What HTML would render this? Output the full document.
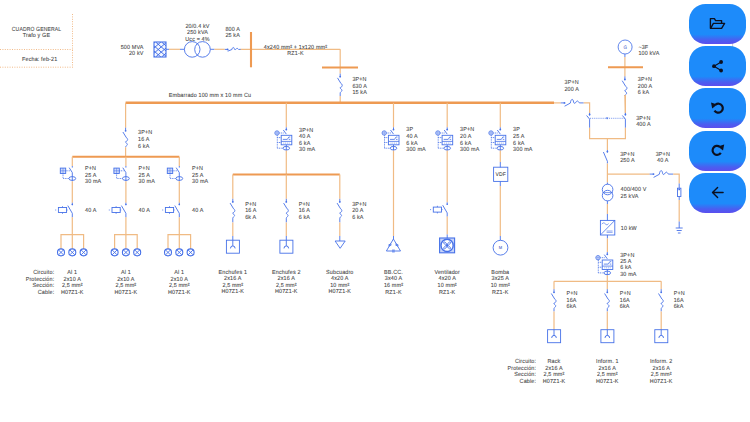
<!DOCTYPE html>
<html><head><meta charset="utf-8"><style>
html,body{margin:0;padding:0;background:#fff;width:750px;height:422px;overflow:hidden;position:relative}
svg.d{position:absolute;left:0;top:0}
svg.d text{font-family:"Liberation Sans",sans-serif;text-rendering:geometricPrecision;letter-spacing:0.15px}
.btn{position:absolute;left:689.3px;width:56.9px;height:40.1px;border-radius:16.5px;background:linear-gradient(to bottom,#1d8bfa 0%,#1d8bfa 76%,#4a5ff0 90%,#5b4eee 100%)}
svg.ic{position:absolute;left:0;top:0}
</style></head><body>
<svg class="d" width="750" height="422" viewBox="0 0 750 422">
<line x1="72.50" y1="14.00" x2="72.50" y2="67.50" stroke="#f0b27a" stroke-width="0.9" stroke-dasharray="1,1.4"/>
<line x1="0.00" y1="49.50" x2="72.50" y2="49.50" stroke="#f0b27a" stroke-width="0.9" stroke-dasharray="1,1.4"/>
<line x1="0.00" y1="67.20" x2="72.50" y2="67.20" stroke="#f0b27a" stroke-width="0.9" stroke-dasharray="1,1.4"/>
<text transform="translate(36.50,30.82) scale(0.86,1) skewX(0.05)" font-size="5.9" text-anchor="middle" fill="#444444" stroke="#444444" stroke-width="0.08" >CUADRO GENERAL</text>
<text transform="translate(36.50,37.42) scale(0.92,1) skewX(0.05)" font-size="5.9" text-anchor="middle" fill="#444444" stroke="#444444" stroke-width="0.08" >Trafo y GE</text>
<text transform="translate(39.70,60.82) scale(0.92,1) skewX(0.05)" font-size="5.9" text-anchor="middle" fill="#444444" stroke="#444444" stroke-width="0.08" >Fecha: feb-21</text>
<text transform="translate(143.50,48.62) scale(0.92,1) skewX(0.05)" font-size="5.9" text-anchor="end" fill="#444444" stroke="#444444" stroke-width="0.08" >500 MVA</text>
<text transform="translate(143.50,55.32) scale(0.92,1) skewX(0.05)" font-size="5.9" text-anchor="end" fill="#444444" stroke="#444444" stroke-width="0.08" >20 kV</text>
<defs><clipPath id="netclip"><rect x="154" y="42" width="12" height="15"/></clipPath></defs>
<rect x="154" y="42" width="12" height="15" fill="#f4f7fe"/>
<g clip-path="url(#netclip)"><line x1="131.60" y1="42" x2="148.90" y2="57" stroke="#4671e8" stroke-width="1"/><line x1="148.90" y1="42" x2="131.60" y2="57" stroke="#4671e8" stroke-width="1"/><line x1="137.60" y1="42" x2="154.90" y2="57" stroke="#4671e8" stroke-width="1"/><line x1="154.90" y1="42" x2="137.60" y2="57" stroke="#4671e8" stroke-width="1"/><line x1="143.60" y1="42" x2="160.90" y2="57" stroke="#4671e8" stroke-width="1"/><line x1="160.90" y1="42" x2="143.60" y2="57" stroke="#4671e8" stroke-width="1"/><line x1="149.60" y1="42" x2="166.90" y2="57" stroke="#4671e8" stroke-width="1"/><line x1="166.90" y1="42" x2="149.60" y2="57" stroke="#4671e8" stroke-width="1"/><line x1="155.60" y1="42" x2="172.90" y2="57" stroke="#4671e8" stroke-width="1"/><line x1="172.90" y1="42" x2="155.60" y2="57" stroke="#4671e8" stroke-width="1"/><line x1="161.60" y1="42" x2="178.90" y2="57" stroke="#4671e8" stroke-width="1"/><line x1="178.90" y1="42" x2="161.60" y2="57" stroke="#4671e8" stroke-width="1"/><line x1="167.60" y1="42" x2="184.90" y2="57" stroke="#4671e8" stroke-width="1"/><line x1="184.90" y1="42" x2="167.60" y2="57" stroke="#4671e8" stroke-width="1"/><line x1="173.60" y1="42" x2="190.90" y2="57" stroke="#4671e8" stroke-width="1"/><line x1="190.90" y1="42" x2="173.60" y2="57" stroke="#4671e8" stroke-width="1"/><line x1="179.60" y1="42" x2="196.90" y2="57" stroke="#4671e8" stroke-width="1"/><line x1="196.90" y1="42" x2="179.60" y2="57" stroke="#4671e8" stroke-width="1"/><line x1="185.60" y1="42" x2="202.90" y2="57" stroke="#4671e8" stroke-width="1"/><line x1="202.90" y1="42" x2="185.60" y2="57" stroke="#4671e8" stroke-width="1"/></g>
<rect x="154" y="42" width="12" height="15" fill="none" stroke="#4671e8" stroke-width="1.1"/>
<line x1="166.00" y1="49.30" x2="169.00" y2="49.30" stroke="#4671e8" stroke-width="0.9" />
<line x1="169.00" y1="49.30" x2="180.00" y2="49.30" stroke="#f0bb84" stroke-width="1.2" />
<line x1="180.00" y1="49.30" x2="184.40" y2="49.30" stroke="#4671e8" stroke-width="0.9" />
<circle cx="192.2" cy="49.4" r="7.8" fill="none" stroke="#4671e8" stroke-width="0.9"/>
<circle cx="202.5" cy="49.4" r="7.8" fill="none" stroke="#4671e8" stroke-width="0.9"/>
<text transform="translate(197.50,27.92) scale(0.92,1) skewX(0.05)" font-size="5.9" text-anchor="middle" fill="#444444" stroke="#444444" stroke-width="0.08" >20/0.4 kV</text>
<text transform="translate(197.50,34.42) scale(0.92,1) skewX(0.05)" font-size="5.9" text-anchor="middle" fill="#444444" stroke="#444444" stroke-width="0.08" >250 kVA</text>
<text transform="translate(197.50,40.72) scale(0.92,1) skewX(0.05)" font-size="5.9" text-anchor="middle" fill="#444444" stroke="#444444" stroke-width="0.08" >Ucc = 4%</text>
<line x1="210.30" y1="49.30" x2="214.50" y2="49.30" stroke="#4671e8" stroke-width="0.9" />
<line x1="214.50" y1="49.30" x2="224.70" y2="49.30" stroke="#f0bb84" stroke-width="1.2" />
<line x1="224.80" y1="49.40" x2="227.61" y2="49.40" stroke="#4671e8" stroke-width="0.9" />
<circle cx="227.61" cy="49.40" r="0.95" fill="#4671e8"/>
<line x1="227.69" y1="51.21" x2="231.90" y2="49.51" stroke="#4671e8" stroke-width="0.9" />
<path d="M231.90,49.51 C232.35,47.09 233.98,46.65 234.35,49.07 C234.64,49.95 235.60,49.73 236.34,48.74 C237.08,47.86 237.82,48.52 238.56,49.40" fill="none" stroke="#4671e8" stroke-width="0.9" />
<line x1="238.56" y1="49.40" x2="241.00" y2="49.40" stroke="#4671e8" stroke-width="0.9" />
<line x1="240.60" y1="49.30" x2="340.20" y2="49.30" stroke="#f0bb84" stroke-width="1.2" />
<text transform="translate(232.70,31.22) scale(0.92,1) skewX(0.05)" font-size="5.9" text-anchor="middle" fill="#444444" stroke="#444444" stroke-width="0.08" >800 A</text>
<text transform="translate(232.70,37.32) scale(0.92,1) skewX(0.05)" font-size="5.9" text-anchor="middle" fill="#444444" stroke="#444444" stroke-width="0.08" >25 kA</text>
<line x1="251.00" y1="32.00" x2="251.00" y2="67.30" stroke="#ee9a52" stroke-width="2.1" />
<text transform="translate(295.50,48.92) scale(0.92,1) skewX(0.05)" font-size="5.9" text-anchor="middle" fill="#444444" stroke="#444444" stroke-width="0.08" >4x240 mm² + 1x120 mm²</text>
<text transform="translate(295.50,55.32) scale(0.92,1) skewX(0.05)" font-size="5.9" text-anchor="middle" fill="#444444" stroke="#444444" stroke-width="0.08" >RZ1-K</text>
<line x1="340.20" y1="49.30" x2="340.20" y2="73.60" stroke="#f0bb84" stroke-width="1.2" />
<line x1="322.00" y1="67.60" x2="358.00" y2="67.60" stroke="#ee9a52" stroke-width="2" />
<line x1="340.20" y1="73.60" x2="340.20" y2="76.80" stroke="#4671e8" stroke-width="0.9" />
<circle cx="340.20" cy="76.70" r="0.9" fill="#4671e8"/>
<line x1="337.50" y1="77.90" x2="341.00" y2="83.60" stroke="#4671e8" stroke-width="0.9" />
<path d="M341.00,83.60 C342.90,84.60 342.50,86.80 340.40,87.50 C338.90,88.10 342.30,89.10 341.90,90.60 C341.60,91.60 340.20,92.00 340.20,93.00" fill="none" stroke="#4671e8" stroke-width="0.9" />
<line x1="340.20" y1="93.00" x2="340.20" y2="96.00" stroke="#4671e8" stroke-width="0.9" />
<line x1="340.20" y1="96.00" x2="340.20" y2="103.00" stroke="#f0bb84" stroke-width="1.2" />
<text transform="translate(352.40,80.92) scale(0.92,1) skewX(0.05)" font-size="5.9" text-anchor="start" fill="#444444" stroke="#444444" stroke-width="0.08" >3P+N</text>
<text transform="translate(352.40,87.72) scale(0.92,1) skewX(0.05)" font-size="5.9" text-anchor="start" fill="#444444" stroke="#444444" stroke-width="0.08" >630 A</text>
<text transform="translate(352.40,94.22) scale(0.92,1) skewX(0.05)" font-size="5.9" text-anchor="start" fill="#444444" stroke="#444444" stroke-width="0.08" >15 kA</text>
<line x1="125.60" y1="102.80" x2="554.00" y2="102.80" stroke="#ee9a52" stroke-width="2.5" />
<text transform="translate(168.80,96.52) scale(0.92,1) skewX(0.05)" font-size="5.9" text-anchor="start" fill="#444444" stroke="#444444" stroke-width="0.08" >Embarrado 100 mm x 10 mm Cu</text>
<line x1="125.60" y1="102.80" x2="125.60" y2="127.70" stroke="#f0bb84" stroke-width="1.2" />
<line x1="125.60" y1="127.70" x2="125.60" y2="130.90" stroke="#4671e8" stroke-width="0.9" />
<circle cx="125.60" cy="130.80" r="0.9" fill="#4671e8"/>
<line x1="122.90" y1="132.00" x2="126.40" y2="137.70" stroke="#4671e8" stroke-width="0.9" />
<path d="M126.40,137.70 C128.30,138.70 127.90,140.90 125.80,141.60 C124.30,142.20 127.70,143.20 127.30,144.70 C127.00,145.70 125.60,146.10 125.60,147.10" fill="none" stroke="#4671e8" stroke-width="0.9" />
<line x1="125.60" y1="147.10" x2="125.60" y2="147.20" stroke="#4671e8" stroke-width="0.9" />
<line x1="125.60" y1="147.20" x2="125.60" y2="157.00" stroke="#f0bb84" stroke-width="1.2" />
<text transform="translate(138.00,134.22) scale(0.92,1) skewX(0.05)" font-size="5.9" text-anchor="start" fill="#444444" stroke="#444444" stroke-width="0.08" >3P+N</text>
<text transform="translate(138.00,141.12) scale(0.92,1) skewX(0.05)" font-size="5.9" text-anchor="start" fill="#444444" stroke="#444444" stroke-width="0.08" >16 A</text>
<text transform="translate(138.00,147.62) scale(0.92,1) skewX(0.05)" font-size="5.9" text-anchor="start" fill="#444444" stroke="#444444" stroke-width="0.08" >6 kA</text>
<line x1="72.30" y1="156.80" x2="179.30" y2="156.80" stroke="#ee9a52" stroke-width="1.9" />
<line x1="72.30" y1="156.80" x2="72.30" y2="166.00" stroke="#f0bb84" stroke-width="1.2" />
<line x1="72.30" y1="166.00" x2="72.30" y2="167.60" stroke="#4671e8" stroke-width="0.9" />
<line x1="69.20" y1="167.70" x2="72.30" y2="172.60" stroke="#4671e8" stroke-width="0.9" />
<line x1="72.30" y1="172.60" x2="72.30" y2="181.20" stroke="#4671e8" stroke-width="0.9" />
<ellipse cx="72.30" cy="178.50" rx="3.4" ry="1.9" fill="none" stroke="#4671e8" stroke-width="0.9"/>
<rect x="60.30" y="168.10" width="5.4" height="5.4" fill="#d0dcfb" stroke="#4671e8" stroke-width="0.9"/>
<line x1="63.00" y1="168.10" x2="63.00" y2="173.50" stroke="#4671e8" stroke-width="0.5" />
<line x1="60.30" y1="170.80" x2="65.70" y2="170.80" stroke="#4671e8" stroke-width="0.5" />
<line x1="65.70" y1="170.80" x2="69.90" y2="170.80" stroke="#4671e8" stroke-width="0.8" stroke-dasharray="1,0.7"/>
<polyline points="63.00,173.50 63.00,178.50 68.90,178.50" fill="none" stroke="#4671e8" stroke-width="0.8" stroke-dasharray="1,0.7"/>
<line x1="72.30" y1="181.20" x2="72.30" y2="202.70" stroke="#f0bb84" stroke-width="1.2" />
<text transform="translate(85.00,170.22) scale(0.92,1) skewX(0.05)" font-size="5.9" text-anchor="start" fill="#444444" stroke="#444444" stroke-width="0.08" >P+N</text>
<text transform="translate(85.00,177.12) scale(0.92,1) skewX(0.05)" font-size="5.9" text-anchor="start" fill="#444444" stroke="#444444" stroke-width="0.08" >25 A</text>
<text transform="translate(85.00,183.42) scale(0.92,1) skewX(0.05)" font-size="5.9" text-anchor="start" fill="#444444" stroke="#444444" stroke-width="0.08" >30 mA</text>
<line x1="72.30" y1="202.70" x2="72.30" y2="204.90" stroke="#4671e8" stroke-width="0.9" />
<circle cx="72.30" cy="204.60" r="0.8" fill="#4671e8"/>
<line x1="67.80" y1="205.60" x2="72.30" y2="213.30" stroke="#4671e8" stroke-width="0.9" />
<line x1="72.30" y1="213.30" x2="72.30" y2="217.30" stroke="#4671e8" stroke-width="0.9" />
<rect x="58.40" y="207.50" width="8.2" height="5" fill="none" stroke="#4671e8" stroke-width="0.9"/>
<line x1="62.50" y1="206.20" x2="62.50" y2="207.50" stroke="#4671e8" stroke-width="0.8" />
<line x1="62.50" y1="212.50" x2="62.50" y2="213.80" stroke="#4671e8" stroke-width="0.8" />
<line x1="55.20" y1="210.00" x2="56.20" y2="210.00" stroke="#4671e8" stroke-width="0.8" />
<line x1="66.60" y1="210.00" x2="67.60" y2="210.00" stroke="#4671e8" stroke-width="0.8" />
<text transform="translate(85.00,212.22) scale(0.92,1) skewX(0.05)" font-size="5.9" text-anchor="start" fill="#444444" stroke="#444444" stroke-width="0.08" >40 A</text>
<line x1="72.30" y1="217.30" x2="72.30" y2="249.00" stroke="#f0bb84" stroke-width="1.2" />
<polyline points="61.00,249.00 61.00,234.70 83.60,234.70 83.60,249.00" fill="none" stroke="#f0bb84" stroke-width="1.2" />
<circle cx="61.00" cy="252.40" r="3.5" fill="none" stroke="#4671e8" stroke-width="1.1"/>
<line x1="58.53" y1="249.93" x2="63.47" y2="254.87" stroke="#4671e8" stroke-width="0.9" />
<line x1="58.53" y1="254.87" x2="63.47" y2="249.93" stroke="#4671e8" stroke-width="0.9" />
<circle cx="72.30" cy="252.40" r="3.5" fill="none" stroke="#4671e8" stroke-width="1.1"/>
<line x1="69.83" y1="249.93" x2="74.77" y2="254.87" stroke="#4671e8" stroke-width="0.9" />
<line x1="69.83" y1="254.87" x2="74.77" y2="249.93" stroke="#4671e8" stroke-width="0.9" />
<circle cx="83.60" cy="252.40" r="3.5" fill="none" stroke="#4671e8" stroke-width="1.1"/>
<line x1="81.13" y1="249.93" x2="86.07" y2="254.87" stroke="#4671e8" stroke-width="0.9" />
<line x1="81.13" y1="254.87" x2="86.07" y2="249.93" stroke="#4671e8" stroke-width="0.9" />
<text transform="translate(72.30,274.12) scale(0.92,1) skewX(0.05)" font-size="5.9" text-anchor="middle" fill="#444444" stroke="#444444" stroke-width="0.08" >Al 1</text>
<text transform="translate(72.30,280.92) scale(0.92,1) skewX(0.05)" font-size="5.9" text-anchor="middle" fill="#444444" stroke="#444444" stroke-width="0.08" >2x10 A</text>
<text transform="translate(72.30,287.32) scale(0.92,1) skewX(0.05)" font-size="5.9" text-anchor="middle" fill="#444444" stroke="#444444" stroke-width="0.08" >2,5 mm²</text>
<text transform="translate(72.30,293.72) scale(0.92,1) skewX(0.05)" font-size="5.9" text-anchor="middle" fill="#444444" stroke="#444444" stroke-width="0.08" >H07Z1-K</text>
<line x1="125.90" y1="156.80" x2="125.90" y2="166.00" stroke="#f0bb84" stroke-width="1.2" />
<line x1="125.90" y1="166.00" x2="125.90" y2="167.60" stroke="#4671e8" stroke-width="0.9" />
<line x1="122.80" y1="167.70" x2="125.90" y2="172.60" stroke="#4671e8" stroke-width="0.9" />
<line x1="125.90" y1="172.60" x2="125.90" y2="181.20" stroke="#4671e8" stroke-width="0.9" />
<ellipse cx="125.90" cy="178.50" rx="3.4" ry="1.9" fill="none" stroke="#4671e8" stroke-width="0.9"/>
<rect x="113.90" y="168.10" width="5.4" height="5.4" fill="#d0dcfb" stroke="#4671e8" stroke-width="0.9"/>
<line x1="116.60" y1="168.10" x2="116.60" y2="173.50" stroke="#4671e8" stroke-width="0.5" />
<line x1="113.90" y1="170.80" x2="119.30" y2="170.80" stroke="#4671e8" stroke-width="0.5" />
<line x1="119.30" y1="170.80" x2="123.50" y2="170.80" stroke="#4671e8" stroke-width="0.8" stroke-dasharray="1,0.7"/>
<polyline points="116.60,173.50 116.60,178.50 122.50,178.50" fill="none" stroke="#4671e8" stroke-width="0.8" stroke-dasharray="1,0.7"/>
<line x1="125.90" y1="181.20" x2="125.90" y2="202.70" stroke="#f0bb84" stroke-width="1.2" />
<text transform="translate(138.60,170.22) scale(0.92,1) skewX(0.05)" font-size="5.9" text-anchor="start" fill="#444444" stroke="#444444" stroke-width="0.08" >P+N</text>
<text transform="translate(138.60,177.12) scale(0.92,1) skewX(0.05)" font-size="5.9" text-anchor="start" fill="#444444" stroke="#444444" stroke-width="0.08" >25 A</text>
<text transform="translate(138.60,183.42) scale(0.92,1) skewX(0.05)" font-size="5.9" text-anchor="start" fill="#444444" stroke="#444444" stroke-width="0.08" >30 mA</text>
<line x1="125.90" y1="202.70" x2="125.90" y2="204.90" stroke="#4671e8" stroke-width="0.9" />
<circle cx="125.90" cy="204.60" r="0.8" fill="#4671e8"/>
<line x1="121.40" y1="205.60" x2="125.90" y2="213.30" stroke="#4671e8" stroke-width="0.9" />
<line x1="125.90" y1="213.30" x2="125.90" y2="217.30" stroke="#4671e8" stroke-width="0.9" />
<rect x="112.00" y="207.50" width="8.2" height="5" fill="none" stroke="#4671e8" stroke-width="0.9"/>
<line x1="116.10" y1="206.20" x2="116.10" y2="207.50" stroke="#4671e8" stroke-width="0.8" />
<line x1="116.10" y1="212.50" x2="116.10" y2="213.80" stroke="#4671e8" stroke-width="0.8" />
<line x1="108.80" y1="210.00" x2="109.80" y2="210.00" stroke="#4671e8" stroke-width="0.8" />
<line x1="120.20" y1="210.00" x2="121.20" y2="210.00" stroke="#4671e8" stroke-width="0.8" />
<text transform="translate(138.60,212.22) scale(0.92,1) skewX(0.05)" font-size="5.9" text-anchor="start" fill="#444444" stroke="#444444" stroke-width="0.08" >40 A</text>
<line x1="125.90" y1="217.30" x2="125.90" y2="249.00" stroke="#f0bb84" stroke-width="1.2" />
<polyline points="114.60,249.00 114.60,234.70 137.20,234.70 137.20,249.00" fill="none" stroke="#f0bb84" stroke-width="1.2" />
<circle cx="114.60" cy="252.40" r="3.5" fill="none" stroke="#4671e8" stroke-width="1.1"/>
<line x1="112.13" y1="249.93" x2="117.07" y2="254.87" stroke="#4671e8" stroke-width="0.9" />
<line x1="112.13" y1="254.87" x2="117.07" y2="249.93" stroke="#4671e8" stroke-width="0.9" />
<circle cx="125.90" cy="252.40" r="3.5" fill="none" stroke="#4671e8" stroke-width="1.1"/>
<line x1="123.43" y1="249.93" x2="128.37" y2="254.87" stroke="#4671e8" stroke-width="0.9" />
<line x1="123.43" y1="254.87" x2="128.37" y2="249.93" stroke="#4671e8" stroke-width="0.9" />
<circle cx="137.20" cy="252.40" r="3.5" fill="none" stroke="#4671e8" stroke-width="1.1"/>
<line x1="134.73" y1="249.93" x2="139.67" y2="254.87" stroke="#4671e8" stroke-width="0.9" />
<line x1="134.73" y1="254.87" x2="139.67" y2="249.93" stroke="#4671e8" stroke-width="0.9" />
<text transform="translate(125.90,274.12) scale(0.92,1) skewX(0.05)" font-size="5.9" text-anchor="middle" fill="#444444" stroke="#444444" stroke-width="0.08" >Al 1</text>
<text transform="translate(125.90,280.92) scale(0.92,1) skewX(0.05)" font-size="5.9" text-anchor="middle" fill="#444444" stroke="#444444" stroke-width="0.08" >2x10 A</text>
<text transform="translate(125.90,287.32) scale(0.92,1) skewX(0.05)" font-size="5.9" text-anchor="middle" fill="#444444" stroke="#444444" stroke-width="0.08" >2,5 mm²</text>
<text transform="translate(125.90,293.72) scale(0.92,1) skewX(0.05)" font-size="5.9" text-anchor="middle" fill="#444444" stroke="#444444" stroke-width="0.08" >H07Z1-K</text>
<line x1="179.30" y1="156.80" x2="179.30" y2="166.00" stroke="#f0bb84" stroke-width="1.2" />
<line x1="179.30" y1="166.00" x2="179.30" y2="167.60" stroke="#4671e8" stroke-width="0.9" />
<line x1="176.20" y1="167.70" x2="179.30" y2="172.60" stroke="#4671e8" stroke-width="0.9" />
<line x1="179.30" y1="172.60" x2="179.30" y2="181.20" stroke="#4671e8" stroke-width="0.9" />
<ellipse cx="179.30" cy="178.50" rx="3.4" ry="1.9" fill="none" stroke="#4671e8" stroke-width="0.9"/>
<rect x="167.30" y="168.10" width="5.4" height="5.4" fill="#d0dcfb" stroke="#4671e8" stroke-width="0.9"/>
<line x1="170.00" y1="168.10" x2="170.00" y2="173.50" stroke="#4671e8" stroke-width="0.5" />
<line x1="167.30" y1="170.80" x2="172.70" y2="170.80" stroke="#4671e8" stroke-width="0.5" />
<line x1="172.70" y1="170.80" x2="176.90" y2="170.80" stroke="#4671e8" stroke-width="0.8" stroke-dasharray="1,0.7"/>
<polyline points="170.00,173.50 170.00,178.50 175.90,178.50" fill="none" stroke="#4671e8" stroke-width="0.8" stroke-dasharray="1,0.7"/>
<line x1="179.30" y1="181.20" x2="179.30" y2="202.70" stroke="#f0bb84" stroke-width="1.2" />
<text transform="translate(192.00,170.22) scale(0.92,1) skewX(0.05)" font-size="5.9" text-anchor="start" fill="#444444" stroke="#444444" stroke-width="0.08" >P+N</text>
<text transform="translate(192.00,177.12) scale(0.92,1) skewX(0.05)" font-size="5.9" text-anchor="start" fill="#444444" stroke="#444444" stroke-width="0.08" >25 A</text>
<text transform="translate(192.00,183.42) scale(0.92,1) skewX(0.05)" font-size="5.9" text-anchor="start" fill="#444444" stroke="#444444" stroke-width="0.08" >30 mA</text>
<line x1="179.30" y1="202.70" x2="179.30" y2="204.90" stroke="#4671e8" stroke-width="0.9" />
<circle cx="179.30" cy="204.60" r="0.8" fill="#4671e8"/>
<line x1="174.80" y1="205.60" x2="179.30" y2="213.30" stroke="#4671e8" stroke-width="0.9" />
<line x1="179.30" y1="213.30" x2="179.30" y2="217.30" stroke="#4671e8" stroke-width="0.9" />
<rect x="165.40" y="207.50" width="8.2" height="5" fill="none" stroke="#4671e8" stroke-width="0.9"/>
<line x1="169.50" y1="206.20" x2="169.50" y2="207.50" stroke="#4671e8" stroke-width="0.8" />
<line x1="169.50" y1="212.50" x2="169.50" y2="213.80" stroke="#4671e8" stroke-width="0.8" />
<line x1="162.20" y1="210.00" x2="163.20" y2="210.00" stroke="#4671e8" stroke-width="0.8" />
<line x1="173.60" y1="210.00" x2="174.60" y2="210.00" stroke="#4671e8" stroke-width="0.8" />
<text transform="translate(192.00,212.22) scale(0.92,1) skewX(0.05)" font-size="5.9" text-anchor="start" fill="#444444" stroke="#444444" stroke-width="0.08" >40 A</text>
<line x1="179.30" y1="217.30" x2="179.30" y2="249.00" stroke="#f0bb84" stroke-width="1.2" />
<polyline points="168.00,249.00 168.00,234.70 190.60,234.70 190.60,249.00" fill="none" stroke="#f0bb84" stroke-width="1.2" />
<circle cx="168.00" cy="252.40" r="3.5" fill="none" stroke="#4671e8" stroke-width="1.1"/>
<line x1="165.53" y1="249.93" x2="170.47" y2="254.87" stroke="#4671e8" stroke-width="0.9" />
<line x1="165.53" y1="254.87" x2="170.47" y2="249.93" stroke="#4671e8" stroke-width="0.9" />
<circle cx="179.30" cy="252.40" r="3.5" fill="none" stroke="#4671e8" stroke-width="1.1"/>
<line x1="176.83" y1="249.93" x2="181.77" y2="254.87" stroke="#4671e8" stroke-width="0.9" />
<line x1="176.83" y1="254.87" x2="181.77" y2="249.93" stroke="#4671e8" stroke-width="0.9" />
<circle cx="190.60" cy="252.40" r="3.5" fill="none" stroke="#4671e8" stroke-width="1.1"/>
<line x1="188.13" y1="249.93" x2="193.07" y2="254.87" stroke="#4671e8" stroke-width="0.9" />
<line x1="188.13" y1="254.87" x2="193.07" y2="249.93" stroke="#4671e8" stroke-width="0.9" />
<text transform="translate(179.30,274.12) scale(0.92,1) skewX(0.05)" font-size="5.9" text-anchor="middle" fill="#444444" stroke="#444444" stroke-width="0.08" >Al 1</text>
<text transform="translate(179.30,280.92) scale(0.92,1) skewX(0.05)" font-size="5.9" text-anchor="middle" fill="#444444" stroke="#444444" stroke-width="0.08" >2x10 A</text>
<text transform="translate(179.30,287.32) scale(0.92,1) skewX(0.05)" font-size="5.9" text-anchor="middle" fill="#444444" stroke="#444444" stroke-width="0.08" >2,5 mm²</text>
<text transform="translate(179.30,293.72) scale(0.92,1) skewX(0.05)" font-size="5.9" text-anchor="middle" fill="#444444" stroke="#444444" stroke-width="0.08" >H07Z1-K</text>
<text transform="translate(54.30,274.12) scale(0.92,1) skewX(0.05)" font-size="5.9" text-anchor="end" fill="#444444" stroke="#444444" stroke-width="0.08" >Circuito:</text>
<text transform="translate(54.30,280.92) scale(0.92,1) skewX(0.05)" font-size="5.9" text-anchor="end" fill="#444444" stroke="#444444" stroke-width="0.08" >Protección:</text>
<text transform="translate(54.30,287.32) scale(0.92,1) skewX(0.05)" font-size="5.9" text-anchor="end" fill="#444444" stroke="#444444" stroke-width="0.08" >Sección:</text>
<text transform="translate(54.30,293.72) scale(0.92,1) skewX(0.05)" font-size="5.9" text-anchor="end" fill="#444444" stroke="#444444" stroke-width="0.08" >Cable:</text>
<line x1="286.30" y1="102.80" x2="286.30" y2="127.30" stroke="#f0bb84" stroke-width="1.2" />
<line x1="286.30" y1="127.30" x2="286.30" y2="130.10" stroke="#4671e8" stroke-width="0.9" />
<circle cx="286.30" cy="129.60" r="0.9" fill="#4671e8"/>
<line x1="283.30" y1="130.00" x2="286.30" y2="134.10" stroke="#4671e8" stroke-width="0.9" />
<rect x="281.20" y="135.30" width="10.6" height="9.50" fill="none" stroke="#4671e8" stroke-width="0.9"/>
<line x1="281.20" y1="141.40" x2="291.80" y2="141.40" stroke="#4671e8" stroke-width="0.8" />
<path d="M282.80,139.40 L287.30,139.40 L288.80,137.00 L290.30,137.00 M288.80,139.40 L290.30,139.40" fill="none" stroke="#4671e8" stroke-width="0.8" />
<line x1="283.30" y1="143.10" x2="289.80" y2="143.10" stroke="#4671e8" stroke-width="0.6" stroke-dasharray="1,0.8"/>
<line x1="286.30" y1="144.80" x2="286.30" y2="150.60" stroke="#4671e8" stroke-width="0.9" />
<ellipse cx="286.30" cy="148.20" rx="3.3" ry="1.8" fill="none" stroke="#4671e8" stroke-width="0.9"/>
<circle cx="277.00" cy="133.00" r="2.2" fill="#e3e9fc" stroke="#4671e8" stroke-width="0.75"/>
<line x1="274.80" y1="133.00" x2="279.20" y2="133.00" stroke="#4671e8" stroke-width="0.45" />
<line x1="277.00" y1="130.80" x2="277.00" y2="135.20" stroke="#4671e8" stroke-width="0.45" />
<line x1="279.30" y1="133.00" x2="284.30" y2="133.00" stroke="#4671e8" stroke-width="0.8" stroke-dasharray="1,0.7"/>
<line x1="277.30" y1="135.30" x2="277.30" y2="148.20" stroke="#4671e8" stroke-width="0.8" stroke-dasharray="1,0.7"/>
<line x1="277.30" y1="137.60" x2="281.20" y2="137.60" stroke="#4671e8" stroke-width="0.8" stroke-dasharray="1,0.7"/>
<line x1="277.30" y1="142.50" x2="281.20" y2="142.50" stroke="#4671e8" stroke-width="0.8" stroke-dasharray="1,0.7"/>
<line x1="277.30" y1="148.20" x2="283.00" y2="148.20" stroke="#4671e8" stroke-width="0.8" stroke-dasharray="1,0.7"/>
<text transform="translate(299.00,131.82) scale(0.92,1) skewX(0.05)" font-size="5.9" text-anchor="start" fill="#444444" stroke="#444444" stroke-width="0.08" >3P+N</text>
<text transform="translate(299.00,138.22) scale(0.92,1) skewX(0.05)" font-size="5.9" text-anchor="start" fill="#444444" stroke="#444444" stroke-width="0.08" >40 A</text>
<text transform="translate(299.00,144.52) scale(0.92,1) skewX(0.05)" font-size="5.9" text-anchor="start" fill="#444444" stroke="#444444" stroke-width="0.08" >6 kA</text>
<text transform="translate(299.00,151.22) scale(0.92,1) skewX(0.05)" font-size="5.9" text-anchor="start" fill="#444444" stroke="#444444" stroke-width="0.08" >30 mA</text>
<line x1="286.30" y1="150.60" x2="286.30" y2="174.50" stroke="#f0bb84" stroke-width="1.2" />
<line x1="232.80" y1="174.50" x2="339.80" y2="174.50" stroke="#ee9a52" stroke-width="1.9" />
<line x1="232.80" y1="174.50" x2="232.80" y2="198.80" stroke="#f0bb84" stroke-width="1.2" />
<line x1="232.80" y1="198.80" x2="232.80" y2="202.00" stroke="#4671e8" stroke-width="0.9" />
<circle cx="232.80" cy="201.90" r="0.9" fill="#4671e8"/>
<line x1="230.10" y1="203.10" x2="233.60" y2="208.80" stroke="#4671e8" stroke-width="0.9" />
<path d="M233.60,208.80 C235.50,209.80 235.10,212.00 233.00,212.70 C231.50,213.30 234.90,214.30 234.50,215.80 C234.20,216.80 232.80,217.20 232.80,218.20" fill="none" stroke="#4671e8" stroke-width="0.9" />
<line x1="232.80" y1="218.20" x2="232.80" y2="222.40" stroke="#4671e8" stroke-width="0.9" />
<text transform="translate(245.20,205.92) scale(0.92,1) skewX(0.05)" font-size="5.9" text-anchor="start" fill="#444444" stroke="#444444" stroke-width="0.08" >P+N</text>
<text transform="translate(245.20,212.22) scale(0.92,1) skewX(0.05)" font-size="5.9" text-anchor="start" fill="#444444" stroke="#444444" stroke-width="0.08" >16 A</text>
<text transform="translate(245.20,219.02) scale(0.92,1) skewX(0.05)" font-size="5.9" text-anchor="start" fill="#444444" stroke="#444444" stroke-width="0.08" >6k A</text>
<text transform="translate(232.80,273.52) scale(0.92,1) skewX(0.05)" font-size="5.9" text-anchor="middle" fill="#444444" stroke="#444444" stroke-width="0.08" >Enchufes 1</text>
<text transform="translate(232.80,280.12) scale(0.92,1) skewX(0.05)" font-size="5.9" text-anchor="middle" fill="#444444" stroke="#444444" stroke-width="0.08" >2x16 A</text>
<text transform="translate(232.80,286.72) scale(0.92,1) skewX(0.05)" font-size="5.9" text-anchor="middle" fill="#444444" stroke="#444444" stroke-width="0.08" >2,5 mm²</text>
<text transform="translate(232.80,293.42) scale(0.92,1) skewX(0.05)" font-size="5.9" text-anchor="middle" fill="#444444" stroke="#444444" stroke-width="0.08" >H07Z1-K</text>
<line x1="286.30" y1="174.50" x2="286.30" y2="198.80" stroke="#f0bb84" stroke-width="1.2" />
<line x1="286.30" y1="198.80" x2="286.30" y2="202.00" stroke="#4671e8" stroke-width="0.9" />
<circle cx="286.30" cy="201.90" r="0.9" fill="#4671e8"/>
<line x1="283.60" y1="203.10" x2="287.10" y2="208.80" stroke="#4671e8" stroke-width="0.9" />
<path d="M287.10,208.80 C289.00,209.80 288.60,212.00 286.50,212.70 C285.00,213.30 288.40,214.30 288.00,215.80 C287.70,216.80 286.30,217.20 286.30,218.20" fill="none" stroke="#4671e8" stroke-width="0.9" />
<line x1="286.30" y1="218.20" x2="286.30" y2="222.40" stroke="#4671e8" stroke-width="0.9" />
<text transform="translate(298.70,205.92) scale(0.92,1) skewX(0.05)" font-size="5.9" text-anchor="start" fill="#444444" stroke="#444444" stroke-width="0.08" >P+N</text>
<text transform="translate(298.70,212.22) scale(0.92,1) skewX(0.05)" font-size="5.9" text-anchor="start" fill="#444444" stroke="#444444" stroke-width="0.08" >16 A</text>
<text transform="translate(298.70,219.02) scale(0.92,1) skewX(0.05)" font-size="5.9" text-anchor="start" fill="#444444" stroke="#444444" stroke-width="0.08" >6 kA</text>
<text transform="translate(286.30,273.52) scale(0.92,1) skewX(0.05)" font-size="5.9" text-anchor="middle" fill="#444444" stroke="#444444" stroke-width="0.08" >Enchufes 2</text>
<text transform="translate(286.30,280.12) scale(0.92,1) skewX(0.05)" font-size="5.9" text-anchor="middle" fill="#444444" stroke="#444444" stroke-width="0.08" >2x16 A</text>
<text transform="translate(286.30,286.72) scale(0.92,1) skewX(0.05)" font-size="5.9" text-anchor="middle" fill="#444444" stroke="#444444" stroke-width="0.08" >2,5 mm²</text>
<text transform="translate(286.30,293.42) scale(0.92,1) skewX(0.05)" font-size="5.9" text-anchor="middle" fill="#444444" stroke="#444444" stroke-width="0.08" >H07Z1-K</text>
<line x1="339.80" y1="174.50" x2="339.80" y2="198.80" stroke="#f0bb84" stroke-width="1.2" />
<line x1="339.80" y1="198.80" x2="339.80" y2="202.00" stroke="#4671e8" stroke-width="0.9" />
<circle cx="339.80" cy="201.90" r="0.9" fill="#4671e8"/>
<line x1="337.10" y1="203.10" x2="340.60" y2="208.80" stroke="#4671e8" stroke-width="0.9" />
<path d="M340.60,208.80 C342.50,209.80 342.10,212.00 340.00,212.70 C338.50,213.30 341.90,214.30 341.50,215.80 C341.20,216.80 339.80,217.20 339.80,218.20" fill="none" stroke="#4671e8" stroke-width="0.9" />
<line x1="339.80" y1="218.20" x2="339.80" y2="222.40" stroke="#4671e8" stroke-width="0.9" />
<text transform="translate(352.20,205.92) scale(0.92,1) skewX(0.05)" font-size="5.9" text-anchor="start" fill="#444444" stroke="#444444" stroke-width="0.08" >3P+N</text>
<text transform="translate(352.20,212.22) scale(0.92,1) skewX(0.05)" font-size="5.9" text-anchor="start" fill="#444444" stroke="#444444" stroke-width="0.08" >20 A</text>
<text transform="translate(352.20,219.02) scale(0.92,1) skewX(0.05)" font-size="5.9" text-anchor="start" fill="#444444" stroke="#444444" stroke-width="0.08" >6 kA</text>
<text transform="translate(339.80,273.52) scale(0.92,1) skewX(0.05)" font-size="5.9" text-anchor="middle" fill="#444444" stroke="#444444" stroke-width="0.08" >Subcuadro</text>
<text transform="translate(339.80,280.12) scale(0.92,1) skewX(0.05)" font-size="5.9" text-anchor="middle" fill="#444444" stroke="#444444" stroke-width="0.08" >4x20 A</text>
<text transform="translate(339.80,286.72) scale(0.92,1) skewX(0.05)" font-size="5.9" text-anchor="middle" fill="#444444" stroke="#444444" stroke-width="0.08" >10 mm²</text>
<text transform="translate(339.80,293.42) scale(0.92,1) skewX(0.05)" font-size="5.9" text-anchor="middle" fill="#444444" stroke="#444444" stroke-width="0.08" >H07Z1-K</text>
<line x1="232.80" y1="222.40" x2="232.80" y2="236.00" stroke="#f0bb84" stroke-width="1.2" />
<rect x="226.40" y="240.20" width="13" height="13" fill="none" stroke="#4671e8" stroke-width="0.9"/>
<line x1="232.80" y1="240.20" x2="232.80" y2="245.80" stroke="#4671e8" stroke-width="0.9" />
<path d="M230.50,248.40 A2.3,2.5 0 0 1 235.10,248.40" fill="none" stroke="#4671e8" stroke-width="1.0" />
<line x1="232.80" y1="236.00" x2="232.80" y2="240.20" stroke="#4671e8" stroke-width="0.9" />
<line x1="286.30" y1="222.40" x2="286.30" y2="236.00" stroke="#f0bb84" stroke-width="1.2" />
<rect x="279.90" y="240.20" width="13" height="13" fill="none" stroke="#4671e8" stroke-width="0.9"/>
<line x1="286.30" y1="240.20" x2="286.30" y2="245.80" stroke="#4671e8" stroke-width="0.9" />
<path d="M284.00,248.40 A2.3,2.5 0 0 1 288.60,248.40" fill="none" stroke="#4671e8" stroke-width="1.0" />
<line x1="286.30" y1="236.00" x2="286.30" y2="240.20" stroke="#4671e8" stroke-width="0.9" />
<line x1="339.80" y1="222.40" x2="339.80" y2="236.00" stroke="#f0bb84" stroke-width="1.2" />
<line x1="339.80" y1="236.00" x2="339.80" y2="241.00" stroke="#4671e8" stroke-width="0.9" />
<path d="M335.1,241 L345.2,241 L340.15,248.3 Z" fill="none" stroke="#4671e8" stroke-width="0.9" stroke-linejoin="round"/>
<line x1="393.50" y1="102.80" x2="393.50" y2="127.30" stroke="#f0bb84" stroke-width="1.2" />
<line x1="393.50" y1="127.30" x2="393.50" y2="130.10" stroke="#4671e8" stroke-width="0.9" />
<circle cx="393.50" cy="129.60" r="0.9" fill="#4671e8"/>
<line x1="390.50" y1="130.00" x2="393.50" y2="134.10" stroke="#4671e8" stroke-width="0.9" />
<rect x="388.40" y="135.30" width="10.6" height="9.50" fill="none" stroke="#4671e8" stroke-width="0.9"/>
<line x1="388.40" y1="141.40" x2="399.00" y2="141.40" stroke="#4671e8" stroke-width="0.8" />
<path d="M390.00,139.40 L394.50,139.40 L396.00,137.00 L397.50,137.00 M396.00,139.40 L397.50,139.40" fill="none" stroke="#4671e8" stroke-width="0.8" />
<line x1="390.50" y1="143.10" x2="397.00" y2="143.10" stroke="#4671e8" stroke-width="0.6" stroke-dasharray="1,0.8"/>
<line x1="393.50" y1="144.80" x2="393.50" y2="150.60" stroke="#4671e8" stroke-width="0.9" />
<ellipse cx="393.50" cy="148.20" rx="3.3" ry="1.8" fill="none" stroke="#4671e8" stroke-width="0.9"/>
<circle cx="384.20" cy="133.00" r="2.2" fill="#e3e9fc" stroke="#4671e8" stroke-width="0.75"/>
<line x1="382.00" y1="133.00" x2="386.40" y2="133.00" stroke="#4671e8" stroke-width="0.45" />
<line x1="384.20" y1="130.80" x2="384.20" y2="135.20" stroke="#4671e8" stroke-width="0.45" />
<line x1="386.50" y1="133.00" x2="391.50" y2="133.00" stroke="#4671e8" stroke-width="0.8" stroke-dasharray="1,0.7"/>
<line x1="384.50" y1="135.30" x2="384.50" y2="148.20" stroke="#4671e8" stroke-width="0.8" stroke-dasharray="1,0.7"/>
<line x1="384.50" y1="137.60" x2="388.40" y2="137.60" stroke="#4671e8" stroke-width="0.8" stroke-dasharray="1,0.7"/>
<line x1="384.50" y1="142.50" x2="388.40" y2="142.50" stroke="#4671e8" stroke-width="0.8" stroke-dasharray="1,0.7"/>
<line x1="384.50" y1="148.20" x2="390.20" y2="148.20" stroke="#4671e8" stroke-width="0.8" stroke-dasharray="1,0.7"/>
<text transform="translate(406.30,131.42) scale(0.92,1) skewX(0.05)" font-size="5.9" text-anchor="start" fill="#444444" stroke="#444444" stroke-width="0.08" >3P</text>
<text transform="translate(406.30,138.02) scale(0.92,1) skewX(0.05)" font-size="5.9" text-anchor="start" fill="#444444" stroke="#444444" stroke-width="0.08" >40 A</text>
<text transform="translate(406.30,144.62) scale(0.92,1) skewX(0.05)" font-size="5.9" text-anchor="start" fill="#444444" stroke="#444444" stroke-width="0.08" >6 kA</text>
<text transform="translate(406.30,151.02) scale(0.92,1) skewX(0.05)" font-size="5.9" text-anchor="start" fill="#444444" stroke="#444444" stroke-width="0.08" >300 mA</text>
<text transform="translate(393.50,273.72) scale(0.92,1) skewX(0.05)" font-size="5.9" text-anchor="middle" fill="#444444" stroke="#444444" stroke-width="0.08" >BB.CC.</text>
<text transform="translate(393.50,280.12) scale(0.92,1) skewX(0.05)" font-size="5.9" text-anchor="middle" fill="#444444" stroke="#444444" stroke-width="0.08" >3x40 A</text>
<text transform="translate(393.50,286.92) scale(0.92,1) skewX(0.05)" font-size="5.9" text-anchor="middle" fill="#444444" stroke="#444444" stroke-width="0.08" >16 mm²</text>
<text transform="translate(393.50,293.72) scale(0.92,1) skewX(0.05)" font-size="5.9" text-anchor="middle" fill="#444444" stroke="#444444" stroke-width="0.08" >RZ1-K</text>
<line x1="447.20" y1="102.80" x2="447.20" y2="127.30" stroke="#f0bb84" stroke-width="1.2" />
<line x1="447.20" y1="127.30" x2="447.20" y2="130.10" stroke="#4671e8" stroke-width="0.9" />
<circle cx="447.20" cy="129.60" r="0.9" fill="#4671e8"/>
<line x1="444.20" y1="130.00" x2="447.20" y2="134.10" stroke="#4671e8" stroke-width="0.9" />
<rect x="442.10" y="135.30" width="10.6" height="9.50" fill="none" stroke="#4671e8" stroke-width="0.9"/>
<line x1="442.10" y1="141.40" x2="452.70" y2="141.40" stroke="#4671e8" stroke-width="0.8" />
<path d="M443.70,139.40 L448.20,139.40 L449.70,137.00 L451.20,137.00 M449.70,139.40 L451.20,139.40" fill="none" stroke="#4671e8" stroke-width="0.8" />
<line x1="444.20" y1="143.10" x2="450.70" y2="143.10" stroke="#4671e8" stroke-width="0.6" stroke-dasharray="1,0.8"/>
<line x1="447.20" y1="144.80" x2="447.20" y2="150.60" stroke="#4671e8" stroke-width="0.9" />
<ellipse cx="447.20" cy="148.20" rx="3.3" ry="1.8" fill="none" stroke="#4671e8" stroke-width="0.9"/>
<circle cx="437.90" cy="133.00" r="2.2" fill="#e3e9fc" stroke="#4671e8" stroke-width="0.75"/>
<line x1="435.70" y1="133.00" x2="440.10" y2="133.00" stroke="#4671e8" stroke-width="0.45" />
<line x1="437.90" y1="130.80" x2="437.90" y2="135.20" stroke="#4671e8" stroke-width="0.45" />
<line x1="440.20" y1="133.00" x2="445.20" y2="133.00" stroke="#4671e8" stroke-width="0.8" stroke-dasharray="1,0.7"/>
<line x1="438.20" y1="135.30" x2="438.20" y2="148.20" stroke="#4671e8" stroke-width="0.8" stroke-dasharray="1,0.7"/>
<line x1="438.20" y1="137.60" x2="442.10" y2="137.60" stroke="#4671e8" stroke-width="0.8" stroke-dasharray="1,0.7"/>
<line x1="438.20" y1="142.50" x2="442.10" y2="142.50" stroke="#4671e8" stroke-width="0.8" stroke-dasharray="1,0.7"/>
<line x1="438.20" y1="148.20" x2="443.90" y2="148.20" stroke="#4671e8" stroke-width="0.8" stroke-dasharray="1,0.7"/>
<text transform="translate(460.00,131.42) scale(0.92,1) skewX(0.05)" font-size="5.9" text-anchor="start" fill="#444444" stroke="#444444" stroke-width="0.08" >3P+N</text>
<text transform="translate(460.00,138.02) scale(0.92,1) skewX(0.05)" font-size="5.9" text-anchor="start" fill="#444444" stroke="#444444" stroke-width="0.08" >20 A</text>
<text transform="translate(460.00,144.62) scale(0.92,1) skewX(0.05)" font-size="5.9" text-anchor="start" fill="#444444" stroke="#444444" stroke-width="0.08" >6 kA</text>
<text transform="translate(460.00,151.02) scale(0.92,1) skewX(0.05)" font-size="5.9" text-anchor="start" fill="#444444" stroke="#444444" stroke-width="0.08" >300 mA</text>
<text transform="translate(447.20,273.72) scale(0.92,1) skewX(0.05)" font-size="5.9" text-anchor="middle" fill="#444444" stroke="#444444" stroke-width="0.08" >Ventilador</text>
<text transform="translate(447.20,280.12) scale(0.92,1) skewX(0.05)" font-size="5.9" text-anchor="middle" fill="#444444" stroke="#444444" stroke-width="0.08" >4x20 A</text>
<text transform="translate(447.20,286.92) scale(0.92,1) skewX(0.05)" font-size="5.9" text-anchor="middle" fill="#444444" stroke="#444444" stroke-width="0.08" >10 mm²</text>
<text transform="translate(447.20,293.72) scale(0.92,1) skewX(0.05)" font-size="5.9" text-anchor="middle" fill="#444444" stroke="#444444" stroke-width="0.08" >RZ1-K</text>
<line x1="500.30" y1="102.80" x2="500.30" y2="127.30" stroke="#f0bb84" stroke-width="1.2" />
<line x1="500.30" y1="127.30" x2="500.30" y2="130.10" stroke="#4671e8" stroke-width="0.9" />
<circle cx="500.30" cy="129.60" r="0.9" fill="#4671e8"/>
<line x1="497.30" y1="130.00" x2="500.30" y2="134.10" stroke="#4671e8" stroke-width="0.9" />
<rect x="495.20" y="135.30" width="10.6" height="9.50" fill="none" stroke="#4671e8" stroke-width="0.9"/>
<line x1="495.20" y1="141.40" x2="505.80" y2="141.40" stroke="#4671e8" stroke-width="0.8" />
<path d="M496.80,139.40 L501.30,139.40 L502.80,137.00 L504.30,137.00 M502.80,139.40 L504.30,139.40" fill="none" stroke="#4671e8" stroke-width="0.8" />
<line x1="497.30" y1="143.10" x2="503.80" y2="143.10" stroke="#4671e8" stroke-width="0.6" stroke-dasharray="1,0.8"/>
<line x1="500.30" y1="144.80" x2="500.30" y2="150.60" stroke="#4671e8" stroke-width="0.9" />
<ellipse cx="500.30" cy="148.20" rx="3.3" ry="1.8" fill="none" stroke="#4671e8" stroke-width="0.9"/>
<circle cx="491.00" cy="133.00" r="2.2" fill="#e3e9fc" stroke="#4671e8" stroke-width="0.75"/>
<line x1="488.80" y1="133.00" x2="493.20" y2="133.00" stroke="#4671e8" stroke-width="0.45" />
<line x1="491.00" y1="130.80" x2="491.00" y2="135.20" stroke="#4671e8" stroke-width="0.45" />
<line x1="493.30" y1="133.00" x2="498.30" y2="133.00" stroke="#4671e8" stroke-width="0.8" stroke-dasharray="1,0.7"/>
<line x1="491.30" y1="135.30" x2="491.30" y2="148.20" stroke="#4671e8" stroke-width="0.8" stroke-dasharray="1,0.7"/>
<line x1="491.30" y1="137.60" x2="495.20" y2="137.60" stroke="#4671e8" stroke-width="0.8" stroke-dasharray="1,0.7"/>
<line x1="491.30" y1="142.50" x2="495.20" y2="142.50" stroke="#4671e8" stroke-width="0.8" stroke-dasharray="1,0.7"/>
<line x1="491.30" y1="148.20" x2="497.00" y2="148.20" stroke="#4671e8" stroke-width="0.8" stroke-dasharray="1,0.7"/>
<text transform="translate(513.10,131.42) scale(0.92,1) skewX(0.05)" font-size="5.9" text-anchor="start" fill="#444444" stroke="#444444" stroke-width="0.08" >3P</text>
<text transform="translate(513.10,138.02) scale(0.92,1) skewX(0.05)" font-size="5.9" text-anchor="start" fill="#444444" stroke="#444444" stroke-width="0.08" >25 A</text>
<text transform="translate(513.10,144.62) scale(0.92,1) skewX(0.05)" font-size="5.9" text-anchor="start" fill="#444444" stroke="#444444" stroke-width="0.08" >6 kA</text>
<text transform="translate(513.10,151.02) scale(0.92,1) skewX(0.05)" font-size="5.9" text-anchor="start" fill="#444444" stroke="#444444" stroke-width="0.08" >300 mA</text>
<text transform="translate(500.30,273.72) scale(0.92,1) skewX(0.05)" font-size="5.9" text-anchor="middle" fill="#444444" stroke="#444444" stroke-width="0.08" >Bomba</text>
<text transform="translate(500.30,280.12) scale(0.92,1) skewX(0.05)" font-size="5.9" text-anchor="middle" fill="#444444" stroke="#444444" stroke-width="0.08" >3x25 A</text>
<text transform="translate(500.30,286.92) scale(0.92,1) skewX(0.05)" font-size="5.9" text-anchor="middle" fill="#444444" stroke="#444444" stroke-width="0.08" >10 mm²</text>
<text transform="translate(500.30,293.72) scale(0.92,1) skewX(0.05)" font-size="5.9" text-anchor="middle" fill="#444444" stroke="#444444" stroke-width="0.08" >RZ1-K</text>
<line x1="393.50" y1="150.60" x2="393.50" y2="236.00" stroke="#f0bb84" stroke-width="1.2" />
<line x1="393.50" y1="236.00" x2="393.50" y2="239.00" stroke="#4671e8" stroke-width="0.9" />
<path d="M393.4,239 L400.5,251 L386.4,251 Z" fill="none" stroke="#4671e8" stroke-width="0.9" stroke-linejoin="round"/>
<g transform="translate(389.9,245) rotate(60)"><line x1="-0.6" y1="-1.6" x2="-0.6" y2="1.6" stroke="#4671e8" stroke-width="0.8"/><line x1="0.6" y1="-1.6" x2="0.6" y2="1.6" stroke="#4671e8" stroke-width="0.8"/></g>
<g transform="translate(396.9,245) rotate(-60)"><line x1="-0.6" y1="-1.6" x2="-0.6" y2="1.6" stroke="#4671e8" stroke-width="0.8"/><line x1="0.6" y1="-1.6" x2="0.6" y2="1.6" stroke="#4671e8" stroke-width="0.8"/></g>
<g transform="translate(393.45,251) rotate(0)"><line x1="-0.6" y1="-1.6" x2="-0.6" y2="1.6" stroke="#4671e8" stroke-width="0.8"/><line x1="0.6" y1="-1.6" x2="0.6" y2="1.6" stroke="#4671e8" stroke-width="0.8"/></g>
<line x1="447.20" y1="150.60" x2="447.20" y2="202.30" stroke="#f0bb84" stroke-width="1.2" />
<line x1="447.20" y1="202.30" x2="447.20" y2="204.50" stroke="#4671e8" stroke-width="0.9" />
<circle cx="447.20" cy="204.20" r="0.8" fill="#4671e8"/>
<line x1="442.70" y1="205.20" x2="447.20" y2="212.90" stroke="#4671e8" stroke-width="0.9" />
<line x1="447.20" y1="212.90" x2="447.20" y2="216.60" stroke="#4671e8" stroke-width="0.9" />
<rect x="433.30" y="207.10" width="8.2" height="5" fill="none" stroke="#4671e8" stroke-width="0.9"/>
<line x1="437.40" y1="205.80" x2="437.40" y2="207.10" stroke="#4671e8" stroke-width="0.8" />
<line x1="437.40" y1="212.10" x2="437.40" y2="213.40" stroke="#4671e8" stroke-width="0.8" />
<line x1="430.10" y1="209.60" x2="431.10" y2="209.60" stroke="#4671e8" stroke-width="0.8" />
<line x1="441.50" y1="209.60" x2="442.50" y2="209.60" stroke="#4671e8" stroke-width="0.8" />
<line x1="447.20" y1="216.60" x2="447.20" y2="234.50" stroke="#f0bb84" stroke-width="1.2" />
<line x1="447.20" y1="234.50" x2="447.20" y2="238.00" stroke="#4671e8" stroke-width="0.9" />
<rect x="439.6" y="238" width="15" height="14.8" fill="#c6d3f9" stroke="#4671e8" stroke-width="1.1"/>
<circle cx="447.1" cy="245.4" r="6.1" fill="#fff" stroke="#4671e8" stroke-width="1.4"/>
<g transform="translate(447.1,245.4) rotate(45)"><ellipse cx="2.7" cy="0" rx="2.0" ry="1.0" fill="#dbe4fb" stroke="#4671e8" stroke-width="0.7"/></g>
<g transform="translate(447.1,245.4) rotate(135)"><ellipse cx="2.7" cy="0" rx="2.0" ry="1.0" fill="#dbe4fb" stroke="#4671e8" stroke-width="0.7"/></g>
<g transform="translate(447.1,245.4) rotate(225)"><ellipse cx="2.7" cy="0" rx="2.0" ry="1.0" fill="#dbe4fb" stroke="#4671e8" stroke-width="0.7"/></g>
<g transform="translate(447.1,245.4) rotate(315)"><ellipse cx="2.7" cy="0" rx="2.0" ry="1.0" fill="#dbe4fb" stroke="#4671e8" stroke-width="0.7"/></g>
<circle cx="447.1" cy="245.4" r="1.1" fill="#4671e8"/>
<line x1="500.30" y1="150.60" x2="500.30" y2="162.00" stroke="#f0bb84" stroke-width="1.2" />
<line x1="500.30" y1="162.00" x2="500.30" y2="167.40" stroke="#4671e8" stroke-width="0.9" />
<rect x="493.6" y="167.2" width="14.2" height="14.2" fill="none" stroke="#4671e8" stroke-width="0.9"/>
<text transform="translate(500.70,176.38) scale(0.92,1) skewX(0.05)" font-size="5.5" text-anchor="middle" fill="#444444" stroke="#444444" stroke-width="0.08" >VDF</text>
<line x1="500.30" y1="181.40" x2="500.30" y2="186.00" stroke="#4671e8" stroke-width="0.9" />
<line x1="500.30" y1="186.00" x2="500.30" y2="236.00" stroke="#f0bb84" stroke-width="1.2" />
<line x1="500.30" y1="236.00" x2="500.30" y2="240.30" stroke="#4671e8" stroke-width="0.9" />
<circle cx="500.5" cy="247.7" r="7.4" fill="none" stroke="#4671e8" stroke-width="0.9"/>
<text transform="translate(500.40,249.48) scale(0.92,1) skewX(0.05)" font-size="4.4" text-anchor="middle" fill="#4d66c8" stroke="#4d66c8" stroke-width="0.08" >M</text>
<line x1="554.00" y1="102.90" x2="560.70" y2="102.90" stroke="#f0bb84" stroke-width="1.2" />
<line x1="560.70" y1="102.90" x2="564.50" y2="102.90" stroke="#4671e8" stroke-width="0.9" />
<circle cx="564.50" cy="102.90" r="0.95" fill="#4671e8"/>
<line x1="564.60" y1="106.20" x2="570.30" y2="103.10" stroke="#4671e8" stroke-width="0.9" />
<path d="M570.30,103.10 C570.90,98.70 573.10,97.90 573.60,102.30 C574.00,103.90 575.30,103.50 576.30,101.70 C577.30,100.10 578.30,101.30 579.30,102.90" fill="none" stroke="#4671e8" stroke-width="0.9" />
<line x1="579.30" y1="102.90" x2="583.70" y2="102.90" stroke="#4671e8" stroke-width="0.9" />
<polyline points="583.70,102.90 589.60,102.90 589.60,112.90" fill="none" stroke="#f0bb84" stroke-width="1.2" />
<text transform="translate(571.70,84.22) scale(0.92,1) skewX(0.05)" font-size="5.9" text-anchor="middle" fill="#444444" stroke="#444444" stroke-width="0.08" >3P+N</text>
<text transform="translate(571.70,90.82) scale(0.92,1) skewX(0.05)" font-size="5.9" text-anchor="middle" fill="#444444" stroke="#444444" stroke-width="0.08" >200 A</text>
<circle cx="625.1" cy="47.0" r="7.0" fill="none" stroke="#4671e8" stroke-width="0.85"/>
<text transform="translate(625.30,48.86) scale(0.92,1) skewX(0.05)" font-size="4.9" text-anchor="middle" fill="#5a6fd0" stroke="#5a6fd0" stroke-width="0.08" >G</text>
<text transform="translate(638.40,48.82) scale(0.92,1) skewX(0.05)" font-size="5.9" text-anchor="start" fill="#444444" stroke="#444444" stroke-width="0.08" >~3F</text>
<text transform="translate(638.40,55.12) scale(0.92,1) skewX(0.05)" font-size="5.9" text-anchor="start" fill="#444444" stroke="#444444" stroke-width="0.08" >100 kVA</text>
<line x1="624.90" y1="54.00" x2="624.90" y2="57.00" stroke="#4671e8" stroke-width="0.9" />
<line x1="624.90" y1="57.00" x2="624.90" y2="76.40" stroke="#f0bb84" stroke-width="1.2" />
<line x1="608.00" y1="67.30" x2="643.00" y2="67.30" stroke="#ee9a52" stroke-width="2" />
<line x1="624.90" y1="76.40" x2="624.90" y2="79.60" stroke="#4671e8" stroke-width="0.9" />
<circle cx="624.90" cy="79.50" r="0.9" fill="#4671e8"/>
<line x1="622.20" y1="80.70" x2="625.70" y2="86.40" stroke="#4671e8" stroke-width="0.9" />
<path d="M625.70,86.40 C627.60,87.40 627.20,89.60 625.10,90.30 C623.60,90.90 627.00,91.90 626.60,93.40 C626.30,94.40 624.90,94.80 624.90,95.80" fill="none" stroke="#4671e8" stroke-width="0.9" />
<line x1="624.90" y1="95.80" x2="624.90" y2="95.00" stroke="#4671e8" stroke-width="0.9" />
<text transform="translate(637.80,81.12) scale(0.92,1) skewX(0.05)" font-size="5.9" text-anchor="start" fill="#444444" stroke="#444444" stroke-width="0.08" >3P+N</text>
<text transform="translate(637.80,87.82) scale(0.92,1) skewX(0.05)" font-size="5.9" text-anchor="start" fill="#444444" stroke="#444444" stroke-width="0.08" >200 A</text>
<text transform="translate(637.80,94.42) scale(0.92,1) skewX(0.05)" font-size="5.9" text-anchor="start" fill="#444444" stroke="#444444" stroke-width="0.08" >6 kA</text>
<line x1="624.90" y1="95.00" x2="625.40" y2="112.90" stroke="#f0bb84" stroke-width="1.2" />
<line x1="625.40" y1="95.00" x2="625.40" y2="112.90" stroke="#f0bb84" stroke-width="1.2" />
<line x1="589.60" y1="112.90" x2="589.60" y2="115.50" stroke="#4671e8" stroke-width="0.9" />
<circle cx="589.60" cy="114.50" r="0.9" fill="#4671e8"/>
<line x1="586.60" y1="115.50" x2="589.60" y2="119.10" stroke="#4671e8" stroke-width="0.9" />
<line x1="589.60" y1="119.10" x2="589.60" y2="127.80" stroke="#4671e8" stroke-width="0.9" />
<line x1="625.40" y1="112.90" x2="625.40" y2="115.50" stroke="#4671e8" stroke-width="0.9" />
<circle cx="625.40" cy="114.50" r="0.9" fill="#4671e8"/>
<line x1="622.40" y1="115.50" x2="625.40" y2="119.10" stroke="#4671e8" stroke-width="0.9" />
<line x1="625.40" y1="119.10" x2="625.40" y2="127.80" stroke="#4671e8" stroke-width="0.9" />
<line x1="590.00" y1="118.30" x2="625.00" y2="118.30" stroke="#4671e8" stroke-width="0.7" stroke-dasharray="1,0.9"/>
<path d="M605.8,117.4 L608.4,117.4 L607.1,119.6 Z" fill="#4671e8"/>
<text transform="translate(636.20,120.02) scale(0.92,1) skewX(0.05)" font-size="5.9" text-anchor="start" fill="#444444" stroke="#444444" stroke-width="0.08" >3P+N</text>
<text transform="translate(636.20,126.02) scale(0.92,1) skewX(0.05)" font-size="5.9" text-anchor="start" fill="#444444" stroke="#444444" stroke-width="0.08" >400 A</text>
<polyline points="589.60,127.80 589.60,138.60 625.40,138.60 625.40,127.80" fill="none" stroke="#f0bb84" stroke-width="1.2" />
<line x1="607.40" y1="138.60" x2="607.40" y2="150.00" stroke="#f0bb84" stroke-width="1.2" />
<line x1="607.40" y1="150.00" x2="607.40" y2="152.60" stroke="#4671e8" stroke-width="0.9" />
<circle cx="607.40" cy="151.60" r="0.9" fill="#4671e8"/>
<line x1="603.40" y1="152.00" x2="607.40" y2="161.30" stroke="#4671e8" stroke-width="0.9" />
<line x1="607.40" y1="161.30" x2="607.40" y2="163.50" stroke="#4671e8" stroke-width="0.9" />
<text transform="translate(620.20,155.72) scale(0.92,1) skewX(0.05)" font-size="5.9" text-anchor="start" fill="#444444" stroke="#444444" stroke-width="0.08" >3P+N</text>
<text transform="translate(620.20,162.12) scale(0.92,1) skewX(0.05)" font-size="5.9" text-anchor="start" fill="#444444" stroke="#444444" stroke-width="0.08" >250 A</text>
<text transform="translate(662.80,155.72) scale(0.92,1) skewX(0.05)" font-size="5.9" text-anchor="middle" fill="#444444" stroke="#444444" stroke-width="0.08" >3P+N</text>
<text transform="translate(662.80,162.12) scale(0.92,1) skewX(0.05)" font-size="5.9" text-anchor="middle" fill="#444444" stroke="#444444" stroke-width="0.08" >40 A</text>
<line x1="607.40" y1="163.50" x2="607.40" y2="182.50" stroke="#f0bb84" stroke-width="1.2" />
<polyline points="607.40,174.10 649.70,174.10" fill="none" stroke="#f0bb84" stroke-width="1.2" />
<line x1="649.70" y1="174.10" x2="653.50" y2="174.10" stroke="#4671e8" stroke-width="0.9" />
<circle cx="653.50" cy="174.10" r="0.95" fill="#4671e8"/>
<line x1="653.60" y1="177.40" x2="659.30" y2="174.30" stroke="#4671e8" stroke-width="0.9" />
<path d="M659.30,174.30 C659.90,169.90 662.10,169.10 662.60,173.50 C663.00,175.10 664.30,174.70 665.30,172.90 C666.30,171.30 667.30,172.50 668.30,174.10" fill="none" stroke="#4671e8" stroke-width="0.9" />
<line x1="668.30" y1="174.10" x2="673.20" y2="174.10" stroke="#4671e8" stroke-width="0.9" />
<polyline points="673.20,174.10 679.20,174.10 679.20,183.50" fill="none" stroke="#f0bb84" stroke-width="1.2" />
<line x1="679.20" y1="183.50" x2="679.20" y2="200.00" stroke="#4671e8" stroke-width="0.9" />
<rect x="677.5" y="188.2" width="3.4" height="8.3" fill="#fff" stroke="#4671e8" stroke-width="0.9"/>
<circle cx="679.2" cy="189.4" r="0.9" fill="#4671e8"/>
<line x1="679.20" y1="200.00" x2="679.20" y2="221.50" stroke="#f0bb84" stroke-width="1.2" />
<line x1="679.20" y1="221.50" x2="679.20" y2="228.00" stroke="#4671e8" stroke-width="0.9" />
<line x1="675.70" y1="228.00" x2="682.70" y2="228.00" stroke="#4671e8" stroke-width="0.9" />
<line x1="676.70" y1="230.50" x2="681.70" y2="230.50" stroke="#4671e8" stroke-width="0.9" />
<line x1="677.90" y1="233.00" x2="680.50" y2="233.00" stroke="#4671e8" stroke-width="0.9" />
<line x1="607.40" y1="182.50" x2="607.40" y2="184.30" stroke="#4671e8" stroke-width="0.9" />
<circle cx="607.6" cy="189.5" r="5.3" fill="none" stroke="#4671e8" stroke-width="0.9"/>
<circle cx="607.6" cy="195.6" r="5.3" fill="none" stroke="#4671e8" stroke-width="0.9"/>
<line x1="602.50" y1="192.60" x2="612.70" y2="192.60" stroke="#4671e8" stroke-width="0.7" />
<text transform="translate(620.60,191.22) scale(0.92,1) skewX(0.05)" font-size="5.9" text-anchor="start" fill="#444444" stroke="#444444" stroke-width="0.08" >400/400 V</text>
<text transform="translate(620.60,197.72) scale(0.92,1) skewX(0.05)" font-size="5.9" text-anchor="start" fill="#444444" stroke="#444444" stroke-width="0.08" >25 kVA</text>
<line x1="607.40" y1="200.90" x2="607.40" y2="204.00" stroke="#4671e8" stroke-width="0.9" />
<line x1="607.40" y1="204.00" x2="607.40" y2="214.00" stroke="#f0bb84" stroke-width="1.2" />
<line x1="607.40" y1="214.00" x2="607.40" y2="220.40" stroke="#4671e8" stroke-width="0.9" />
<rect x="600.4" y="220.4" width="14.4" height="14.6" fill="none" stroke="#4671e8" stroke-width="0.9"/>
<line x1="600.60" y1="234.80" x2="614.60" y2="220.60" stroke="#4671e8" stroke-width="0.8" />
<path d="M601.8,224.2 C603,222.4 604.2,222.6 605.2,223.8 C606.2,225 607.4,225.2 608.6,223.6" fill="none" stroke="#4671e8" stroke-width="0.7" />
<line x1="606.60" y1="231.00" x2="612.60" y2="231.00" stroke="#4671e8" stroke-width="0.6" />
<line x1="606.60" y1="232.40" x2="612.60" y2="232.40" stroke="#4671e8" stroke-width="0.6" />
<text transform="translate(620.80,230.22) scale(0.92,1) skewX(0.05)" font-size="5.9" text-anchor="start" fill="#444444" stroke="#444444" stroke-width="0.08" >10 kW</text>
<line x1="607.40" y1="235.00" x2="607.40" y2="238.60" stroke="#4671e8" stroke-width="0.9" />
<line x1="607.40" y1="238.60" x2="607.40" y2="252.00" stroke="#f0bb84" stroke-width="1.2" />
<line x1="607.30" y1="252.00" x2="607.30" y2="254.80" stroke="#4671e8" stroke-width="0.9" />
<circle cx="607.30" cy="254.30" r="0.9" fill="#4671e8"/>
<line x1="604.30" y1="254.70" x2="607.30" y2="258.80" stroke="#4671e8" stroke-width="0.9" />
<rect x="602.20" y="260.00" width="10.6" height="9.50" fill="none" stroke="#4671e8" stroke-width="0.9"/>
<line x1="602.20" y1="266.10" x2="612.80" y2="266.10" stroke="#4671e8" stroke-width="0.8" />
<path d="M603.80,264.10 L608.30,264.10 L609.80,261.70 L611.30,261.70 M609.80,264.10 L611.30,264.10" fill="none" stroke="#4671e8" stroke-width="0.8" />
<line x1="604.30" y1="267.80" x2="610.80" y2="267.80" stroke="#4671e8" stroke-width="0.6" stroke-dasharray="1,0.8"/>
<line x1="607.30" y1="269.50" x2="607.30" y2="275.30" stroke="#4671e8" stroke-width="0.9" />
<ellipse cx="607.30" cy="272.90" rx="3.3" ry="1.8" fill="none" stroke="#4671e8" stroke-width="0.9"/>
<circle cx="598.00" cy="257.70" r="2.2" fill="#e3e9fc" stroke="#4671e8" stroke-width="0.75"/>
<line x1="595.80" y1="257.70" x2="600.20" y2="257.70" stroke="#4671e8" stroke-width="0.45" />
<line x1="598.00" y1="255.50" x2="598.00" y2="259.90" stroke="#4671e8" stroke-width="0.45" />
<line x1="600.30" y1="257.70" x2="605.30" y2="257.70" stroke="#4671e8" stroke-width="0.8" stroke-dasharray="1,0.7"/>
<line x1="598.30" y1="260.00" x2="598.30" y2="272.90" stroke="#4671e8" stroke-width="0.8" stroke-dasharray="1,0.7"/>
<line x1="598.30" y1="262.30" x2="602.20" y2="262.30" stroke="#4671e8" stroke-width="0.8" stroke-dasharray="1,0.7"/>
<line x1="598.30" y1="267.20" x2="602.20" y2="267.20" stroke="#4671e8" stroke-width="0.8" stroke-dasharray="1,0.7"/>
<line x1="598.30" y1="272.90" x2="604.00" y2="272.90" stroke="#4671e8" stroke-width="0.8" stroke-dasharray="1,0.7"/>
<text transform="translate(620.20,256.52) scale(0.92,1) skewX(0.05)" font-size="5.9" text-anchor="start" fill="#444444" stroke="#444444" stroke-width="0.08" >3P+N</text>
<text transform="translate(620.20,263.02) scale(0.92,1) skewX(0.05)" font-size="5.9" text-anchor="start" fill="#444444" stroke="#444444" stroke-width="0.08" >25 A</text>
<text transform="translate(620.20,269.22) scale(0.92,1) skewX(0.05)" font-size="5.9" text-anchor="start" fill="#444444" stroke="#444444" stroke-width="0.08" >6 kA</text>
<text transform="translate(620.20,275.72) scale(0.92,1) skewX(0.05)" font-size="5.9" text-anchor="start" fill="#444444" stroke="#444444" stroke-width="0.08" >30 mA</text>
<line x1="607.30" y1="275.30" x2="607.30" y2="281.30" stroke="#f0bb84" stroke-width="1.2" />
<line x1="554.00" y1="281.30" x2="661.20" y2="281.30" stroke="#f0bb84" stroke-width="1.2" />
<line x1="554.00" y1="281.30" x2="554.00" y2="289.20" stroke="#f0bb84" stroke-width="1.2" />
<line x1="554.00" y1="289.20" x2="554.00" y2="292.40" stroke="#4671e8" stroke-width="0.9" />
<circle cx="554.00" cy="292.30" r="0.9" fill="#4671e8"/>
<line x1="551.30" y1="293.50" x2="554.80" y2="299.20" stroke="#4671e8" stroke-width="0.9" />
<path d="M554.80,299.20 C556.70,300.20 556.30,302.40 554.20,303.10 C552.70,303.70 556.10,304.70 555.70,306.20 C555.40,307.20 554.00,307.60 554.00,308.60" fill="none" stroke="#4671e8" stroke-width="0.9" />
<line x1="554.00" y1="308.60" x2="554.00" y2="311.40" stroke="#4671e8" stroke-width="0.9" />
<text transform="translate(566.50,295.02) scale(0.92,1) skewX(0.05)" font-size="5.9" text-anchor="start" fill="#444444" stroke="#444444" stroke-width="0.08" >P+N</text>
<text transform="translate(566.50,301.52) scale(0.92,1) skewX(0.05)" font-size="5.9" text-anchor="start" fill="#444444" stroke="#444444" stroke-width="0.08" >16A</text>
<text transform="translate(566.50,308.32) scale(0.92,1) skewX(0.05)" font-size="5.9" text-anchor="start" fill="#444444" stroke="#444444" stroke-width="0.08" >6kA</text>
<line x1="554.00" y1="311.40" x2="554.00" y2="329.70" stroke="#f0bb84" stroke-width="1.2" />
<rect x="547.60" y="329.70" width="13" height="13" fill="none" stroke="#4671e8" stroke-width="0.9"/>
<line x1="554.00" y1="329.70" x2="554.00" y2="335.30" stroke="#4671e8" stroke-width="0.9" />
<path d="M551.70,337.90 A2.3,2.5 0 0 1 556.30,337.90" fill="none" stroke="#4671e8" stroke-width="1.0" />
<text transform="translate(554.00,363.22) scale(0.92,1) skewX(0.05)" font-size="5.9" text-anchor="middle" fill="#444444" stroke="#444444" stroke-width="0.08" >Rack</text>
<text transform="translate(554.00,369.92) scale(0.92,1) skewX(0.05)" font-size="5.9" text-anchor="middle" fill="#444444" stroke="#444444" stroke-width="0.08" >2x16 A</text>
<text transform="translate(554.00,376.02) scale(0.92,1) skewX(0.05)" font-size="5.9" text-anchor="middle" fill="#444444" stroke="#444444" stroke-width="0.08" >2,5 mm²</text>
<text transform="translate(554.00,382.72) scale(0.92,1) skewX(0.05)" font-size="5.9" text-anchor="middle" fill="#444444" stroke="#444444" stroke-width="0.08" >H07Z1-K</text>
<line x1="607.30" y1="281.30" x2="607.30" y2="289.20" stroke="#f0bb84" stroke-width="1.2" />
<line x1="607.30" y1="289.20" x2="607.30" y2="292.40" stroke="#4671e8" stroke-width="0.9" />
<circle cx="607.30" cy="292.30" r="0.9" fill="#4671e8"/>
<line x1="604.60" y1="293.50" x2="608.10" y2="299.20" stroke="#4671e8" stroke-width="0.9" />
<path d="M608.10,299.20 C610.00,300.20 609.60,302.40 607.50,303.10 C606.00,303.70 609.40,304.70 609.00,306.20 C608.70,307.20 607.30,307.60 607.30,308.60" fill="none" stroke="#4671e8" stroke-width="0.9" />
<line x1="607.30" y1="308.60" x2="607.30" y2="311.40" stroke="#4671e8" stroke-width="0.9" />
<text transform="translate(619.80,295.02) scale(0.92,1) skewX(0.05)" font-size="5.9" text-anchor="start" fill="#444444" stroke="#444444" stroke-width="0.08" >P+N</text>
<text transform="translate(619.80,301.52) scale(0.92,1) skewX(0.05)" font-size="5.9" text-anchor="start" fill="#444444" stroke="#444444" stroke-width="0.08" >16A</text>
<text transform="translate(619.80,308.32) scale(0.92,1) skewX(0.05)" font-size="5.9" text-anchor="start" fill="#444444" stroke="#444444" stroke-width="0.08" >6kA</text>
<line x1="607.30" y1="311.40" x2="607.30" y2="329.70" stroke="#f0bb84" stroke-width="1.2" />
<rect x="600.90" y="329.70" width="13" height="13" fill="none" stroke="#4671e8" stroke-width="0.9"/>
<line x1="607.30" y1="329.70" x2="607.30" y2="335.30" stroke="#4671e8" stroke-width="0.9" />
<path d="M605.00,337.90 A2.3,2.5 0 0 1 609.60,337.90" fill="none" stroke="#4671e8" stroke-width="1.0" />
<text transform="translate(607.30,363.22) scale(0.92,1) skewX(0.05)" font-size="5.9" text-anchor="middle" fill="#444444" stroke="#444444" stroke-width="0.08" >Inform. 1</text>
<text transform="translate(607.30,369.92) scale(0.92,1) skewX(0.05)" font-size="5.9" text-anchor="middle" fill="#444444" stroke="#444444" stroke-width="0.08" >2x16 A</text>
<text transform="translate(607.30,376.02) scale(0.92,1) skewX(0.05)" font-size="5.9" text-anchor="middle" fill="#444444" stroke="#444444" stroke-width="0.08" >2,5 mm²</text>
<text transform="translate(607.30,382.72) scale(0.92,1) skewX(0.05)" font-size="5.9" text-anchor="middle" fill="#444444" stroke="#444444" stroke-width="0.08" >H07Z1-K</text>
<line x1="661.20" y1="281.30" x2="661.20" y2="289.20" stroke="#f0bb84" stroke-width="1.2" />
<line x1="661.20" y1="289.20" x2="661.20" y2="292.40" stroke="#4671e8" stroke-width="0.9" />
<circle cx="661.20" cy="292.30" r="0.9" fill="#4671e8"/>
<line x1="658.50" y1="293.50" x2="662.00" y2="299.20" stroke="#4671e8" stroke-width="0.9" />
<path d="M662.00,299.20 C663.90,300.20 663.50,302.40 661.40,303.10 C659.90,303.70 663.30,304.70 662.90,306.20 C662.60,307.20 661.20,307.60 661.20,308.60" fill="none" stroke="#4671e8" stroke-width="0.9" />
<line x1="661.20" y1="308.60" x2="661.20" y2="311.40" stroke="#4671e8" stroke-width="0.9" />
<text transform="translate(673.70,295.02) scale(0.92,1) skewX(0.05)" font-size="5.9" text-anchor="start" fill="#444444" stroke="#444444" stroke-width="0.08" >P+N</text>
<text transform="translate(673.70,301.52) scale(0.92,1) skewX(0.05)" font-size="5.9" text-anchor="start" fill="#444444" stroke="#444444" stroke-width="0.08" >16A</text>
<text transform="translate(673.70,308.32) scale(0.92,1) skewX(0.05)" font-size="5.9" text-anchor="start" fill="#444444" stroke="#444444" stroke-width="0.08" >6kA</text>
<line x1="661.20" y1="311.40" x2="661.20" y2="329.70" stroke="#f0bb84" stroke-width="1.2" />
<rect x="654.80" y="329.70" width="13" height="13" fill="none" stroke="#4671e8" stroke-width="0.9"/>
<line x1="661.20" y1="329.70" x2="661.20" y2="335.30" stroke="#4671e8" stroke-width="0.9" />
<path d="M658.90,337.90 A2.3,2.5 0 0 1 663.50,337.90" fill="none" stroke="#4671e8" stroke-width="1.0" />
<text transform="translate(661.20,363.22) scale(0.92,1) skewX(0.05)" font-size="5.9" text-anchor="middle" fill="#444444" stroke="#444444" stroke-width="0.08" >Inform. 2</text>
<text transform="translate(661.20,369.92) scale(0.92,1) skewX(0.05)" font-size="5.9" text-anchor="middle" fill="#444444" stroke="#444444" stroke-width="0.08" >2x16 A</text>
<text transform="translate(661.20,376.02) scale(0.92,1) skewX(0.05)" font-size="5.9" text-anchor="middle" fill="#444444" stroke="#444444" stroke-width="0.08" >2,5 mm²</text>
<text transform="translate(661.20,382.72) scale(0.92,1) skewX(0.05)" font-size="5.9" text-anchor="middle" fill="#444444" stroke="#444444" stroke-width="0.08" >H07Z1-K</text>
<text transform="translate(536.10,363.22) scale(0.92,1) skewX(0.05)" font-size="5.9" text-anchor="end" fill="#444444" stroke="#444444" stroke-width="0.08" >Circuito:</text>
<text transform="translate(536.10,369.92) scale(0.92,1) skewX(0.05)" font-size="5.9" text-anchor="end" fill="#444444" stroke="#444444" stroke-width="0.08" >Protección:</text>
<text transform="translate(536.10,376.02) scale(0.92,1) skewX(0.05)" font-size="5.9" text-anchor="end" fill="#444444" stroke="#444444" stroke-width="0.08" >Sección:</text>
<text transform="translate(536.10,382.72) scale(0.92,1) skewX(0.05)" font-size="5.9" text-anchor="end" fill="#444444" stroke="#444444" stroke-width="0.08" >Cable:</text>
<line x1="732.60" y1="42.50" x2="732.60" y2="47.50" stroke="#b0b0b0" stroke-width="0.6" />
</svg>
<div class="btn" style="top:3.6px"></div><div class="btn" style="top:46.0px"></div><div class="btn" style="top:88.4px"></div><div class="btn" style="top:130.8px"></div><div class="btn" style="top:173.2px"></div>
<svg class="ic" width="750" height="422" viewBox="0 0 750 422">
<path d="M710.4,28.4 L710.4,18.6 L714.4,18.6 L715.6,20.6 L721.6,20.6 L721.6,23.3" fill="none" stroke="#0b1020" stroke-width="1.35" stroke-linejoin="round"/>
<path d="M710.6,28.4 L713.4,23.4 L724.6,23.4 L721.6,28.4 Z" fill="none" stroke="#0b1020" stroke-width="1.35" stroke-linejoin="round"/>
<circle cx="721.1" cy="62" r="1.9" fill="#0b1020"/><circle cx="714" cy="66.2" r="1.9" fill="#0b1020"/><circle cx="721.1" cy="70.5" r="1.9" fill="#0b1020"/>
<path d="M721.1,62 L714,66.2 L721.1,70.5" fill="none" stroke="#0b1020" stroke-width="1.1"/>
<path d="M715.6,104.6 A4.5,4.5 0 1 1 714.5,110.6" fill="none" stroke="#0b1020" stroke-width="2.2"/>
<path d="M711.0,102.4 L717.2,104.4 L712.2,108.4 Z" fill="#0b1020"/>
<path d="M719.6,146.6 A4.5,4.5 0 1 0 720.8,152.8" fill="none" stroke="#0b1020" stroke-width="2.2"/>
<path d="M724.2,144.4 L717.8,146.6 L723.0,150.6 Z" fill="#0b1020"/>
<path d="M723.1,192.5 L712.6,192.5 M717.6,187.4 L712.5,192.5 L717.6,197.6" fill="none" stroke="#0b1020" stroke-width="1.4" stroke-linecap="round" stroke-linejoin="round"/>
</svg>
</body></html>
